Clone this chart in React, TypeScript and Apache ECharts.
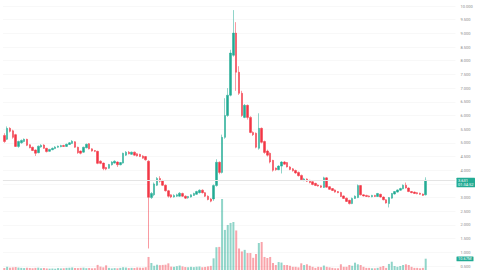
import React, { useEffect, useRef } from "react";
import * as echarts from "echarts";

const opens = [
  5.27, 5.13, 5.53, 5.44, 5.3, 4.87, 5.0, 5.05, 5.13, 4.93,
  4.84, 4.74, 4.64, 4.85, 4.92, 4.8, 4.69, 4.75, 4.79, 4.84,
  4.86, 4.9, 4.87, 4.94, 4.98, 5.04, 4.84, 4.7, 4.66, 4.82,
  4.97, 4.78, 4.72, 4.69, 4.33, 4.26, 4.1, 4.07, 4.2, 4.26,
  4.3, 4.2, 4.26, 4.55, 4.66, 4.58, 4.66, 4.6, 4.58, 4.52,
  4.5, 4.33, 3.0, 3.1, 3.45, 3.7, 3.62, 3.45, 3.25, 3.1,
  3.02, 3.05, 3.05, 3.15, 3.05, 2.99, 3.02, 3.08, 3.12, 3.18,
  3.27, 3.18, 3.05, 2.95, 2.95, 3.44, 4.29, 3.92, 5.2, 6.0,
  6.74, 8.2, 9.01, 7.58, 6.81, 5.93, 6.37, 5.93, 5.38, 5.35,
  4.8, 5.53, 5.05, 4.7, 4.62, 4.36, 4.08, 4.02, 4.15, 4.3,
  4.28, 4.12, 4.05, 3.99, 3.92, 3.81, 3.62, 3.68, 3.63, 3.58,
  3.52, 3.46, 3.43, 3.37, 3.72, 3.4, 3.33, 3.28, 3.22, 3.19,
  3.06, 2.98, 2.9, 2.78, 2.97, 3.0, 3.44, 3.1, 3.08, 3.06,
  3.03, 3.08, 3.04, 3.12, 3.02, 2.92, 2.78, 2.98, 3.13, 3.2,
  3.27, 3.32, 3.45, 3.35, 3.22, 3.2, 3.18, 3.16, 3.13, 3.1,
];

const closes = [
  5.05, 5.53, 5.42, 5.2, 4.87, 5.05, 5.09, 5.13, 4.91, 4.82,
  4.72, 4.62, 4.88, 4.91, 4.8, 4.68, 4.76, 4.8, 4.85, 4.88,
  4.9, 4.87, 4.95, 5.0, 5.06, 4.84, 4.64, 4.62, 4.84, 4.95,
  4.78, 4.7, 4.69, 4.25, 4.25, 4.06, 4.04, 4.21, 4.3, 4.33,
  4.2, 4.28, 4.62, 4.66, 4.6, 4.66, 4.55, 4.52, 4.5, 4.44,
  4.38, 3.01, 3.15, 3.5, 3.7, 3.6, 3.45, 3.25, 3.05, 3.02,
  3.08, 3.1, 3.16, 3.05, 2.98, 3.04, 3.1, 3.15, 3.22, 3.27,
  3.18, 3.05, 2.93, 2.87, 3.44, 4.29, 3.92, 5.2, 6.0, 6.74,
  8.28, 9.01, 7.58, 6.81, 6.0, 6.37, 5.93, 5.38, 5.3, 4.84,
  5.53, 5.02, 4.65, 4.55, 4.3, 4.0, 4.02, 4.15, 4.3, 4.22,
  4.12, 4.03, 3.98, 3.9, 3.8, 3.65, 3.68, 3.6, 3.55, 3.48,
  3.44, 3.42, 3.38, 3.72, 3.38, 3.3, 3.26, 3.2, 3.18, 3.04,
  2.97, 2.86, 2.78, 2.97, 3.05, 3.44, 3.1, 3.06, 3.04, 3.03,
  3.08, 3.04, 3.15, 3.02, 2.92, 2.8, 3.0, 3.15, 3.22, 3.28,
  3.33, 3.45, 3.35, 3.22, 3.18, 3.15, 3.14, 3.12, 3.08, 3.631,
];

const lows = [
  5.0, 5.1, 5.38, 5.15, 4.85, 4.82, 4.97, 5.02, 4.88, 4.8,
  4.7, 4.52, 4.62, 4.82, 4.78, 4.65, 4.67, 4.73, 4.77, 4.82,
  4.84, 4.85, 4.85, 4.92, 4.96, 4.82, 4.6, 4.58, 4.64, 4.8,
  4.76, 4.68, 4.66, 4.22, 4.22, 4.0, 4.0, 4.05, 4.17, 4.24,
  4.12, 4.18, 4.24, 4.52, 4.58, 4.56, 4.53, 4.5, 4.48, 4.42,
  4.35, 1.14, 2.95, 3.05, 3.42, 3.55, 3.42, 3.22, 3.0, 2.98,
  3.0, 3.02, 3.03, 3.02, 2.95, 2.96, 3.0, 3.06, 3.1, 3.15,
  3.15, 3.02, 2.9, 2.83, 2.88, 3.4, 3.85, 3.88, 5.15, 5.95,
  6.7, 8.15, 6.9, 6.75, 5.95, 5.9, 5.85, 5.35, 5.25, 4.8,
  4.75, 4.98, 4.6, 4.5, 4.25, 3.95, 3.98, 4.0, 3.88, 4.2,
  4.1, 4.0, 3.95, 3.87, 3.77, 3.62, 3.6, 3.57, 3.52, 3.45,
  3.42, 3.4, 3.35, 3.35, 3.36, 3.28, 3.24, 3.18, 3.16, 3.02,
  2.95, 2.84, 2.75, 2.76, 2.95, 2.98, 3.08, 3.04, 3.02, 3.01,
  3.01, 3.02, 3.02, 3.0, 2.9, 2.78, 2.64, 2.96, 3.11, 3.18,
  3.25, 3.3, 3.33, 3.2, 3.16, 3.13, 3.12, 3.1, 3.06, 3.08,
];

const highs = [
  5.35, 5.6, 5.57, 5.48, 5.33, 5.08, 5.12, 5.16, 5.15, 4.95,
  4.86, 4.76, 4.9, 4.95, 4.95, 4.82, 4.78, 4.83, 4.88, 4.9,
  4.93, 4.93, 4.97, 5.03, 5.1, 5.06, 4.86, 4.72, 4.86, 4.97,
  4.99, 4.8, 4.74, 4.71, 4.36, 4.28, 4.12, 4.23, 4.33, 4.36,
  4.32, 4.3, 4.64, 4.7, 4.7, 4.68, 4.68, 4.62, 4.6, 4.55,
  4.52, 4.36, 3.2, 3.55, 3.75, 3.78, 3.65, 3.48, 3.28, 3.12,
  3.12, 3.14, 3.2, 3.18, 3.08, 3.06, 3.12, 3.18, 3.25, 3.3,
  3.3, 3.2, 3.08, 2.98, 3.48, 4.4, 4.32, 5.3, 6.63, 7.0,
  8.4, 9.85, 9.41, 7.8, 6.9, 6.42, 6.4, 5.97, 5.42, 5.38,
  6.08, 5.56, 5.08, 4.75, 4.65, 4.38, 4.1, 4.18, 4.33, 4.33,
  4.3, 4.15, 4.08, 4.02, 3.95, 3.84, 3.72, 3.7, 3.65, 3.6,
  3.54, 3.48, 3.45, 3.76, 3.74, 3.42, 3.35, 3.3, 3.24, 3.21,
  3.08, 3.0, 2.92, 3.0, 3.08, 3.48, 3.46, 3.12, 3.1, 3.08,
  3.1, 3.1, 3.17, 3.14, 3.04, 2.94, 3.02, 3.17, 3.24, 3.3,
  3.36, 3.48, 3.55, 3.37, 3.24, 3.22, 3.2, 3.18, 3.15, 3.74,
];

// volume in millions
const volumes = [
  2.0, 3.0, 2.2, 2.5, 2.8, 2.3, 2.0, 1.8, 2.1, 1.9,
  1.7, 2.0, 2.2, 1.6, 1.9, 1.5, 1.3, 1.4, 1.2, 1.8,
  1.5, 1.7, 2.0, 2.1, 2.4, 1.9, 1.8, 2.0, 2.2, 1.7,
  1.9, 1.6, 1.7, 4.8, 3.2, 2.5, 4.4, 2.0, 1.5, 1.8,
  1.6, 2.0, 2.6, 2.3, 1.8, 2.0, 1.9, 2.4, 2.2, 2.1,
  2.6, 12.3, 6.6, 4.0, 5.0, 4.6, 4.8, 5.0, 6.3, 3.2,
  3.0, 3.6, 4.2, 3.4, 2.8, 2.6, 3.0, 2.7, 3.1, 3.3,
  2.6, 2.9, 3.4, 3.9, 11.0, 21.5, 21.8, 67.0, 37.8, 42.5,
  44.4, 45.3, 37.3, 20.3, 17.5, 19.0, 16.0, 16.0, 11.5, 15.0,
  25.5, 26.4, 12.3, 11.3, 12.3, 6.6, 4.7, 7.5, 7.0, 4.7,
  4.7, 4.0, 3.0, 3.0, 2.5, 6.3, 4.7, 5.4, 4.0, 3.0,
  2.0, 3.0, 2.7, 4.2, 3.0, 2.5, 2.0, 1.6, 1.6, 5.4,
  3.0, 3.0, 4.7, 4.0, 6.9, 5.4, 4.7, 3.0, 2.0, 2.0,
  1.6, 1.6, 2.0, 3.0, 3.8, 2.0, 5.7, 7.8, 3.8, 3.0,
  3.8, 4.7, 5.4, 4.7, 3.0, 2.0, 2.0, 1.6, 2.0, 10.67,
];

const EMPTY_SLOTS = 10; // right-side space before the price scale
const countdownText = "01:34:52";
const volumeLabelText = "10.67M";

const categories: string[] = [];
{
  const start = new Date(2024, 0, 1);
  for (let i = 0; i < opens.length + EMPTY_SLOTS; i++) {
    const d = new Date(start.getTime() + i * 86400000);
    categories.push(`${d.getFullYear()}-${d.getMonth() + 1}-${d.getDate()}`);
  }
}

const UP = "#22ab94";
const DOWN = "#f23645";
const UP_VOL = "rgba(34,171,148,0.5)";
const DOWN_VOL = "rgba(242,54,69,0.45)";
const FONT = "Roboto";

export default function App() {
  const ref = useRef<HTMLDivElement>(null);

  useEffect(() => {
    if (!ref.current) return;
    const chart = echarts.init(ref.current, undefined, { renderer: "svg" });
    const candleData = opens.map((o, i) => [o, closes[i], lows[i], highs[i]]);
    const volData = volumes.map((v, i) => ({
      value: v,
      itemStyle: { color: closes[i] >= opens[i] ? UP_VOL : DOWN_VOL },
    }));
    const lastPrice = closes[closes.length - 1];
    const lastVol = volumes[volumes.length - 1];

    chart.setOption({
      animation: false,
      backgroundColor: "#ffffff",
      grid: [
        { left: 2.9, right: 24.6, top: 6, bottom: 4 },
        { left: 2.9, right: 24.6, top: 199, height: 71 },
      ],
      xAxis: [
        {
          type: "category",
          gridIndex: 0,
          data: categories,
          boundaryGap: true,
          axisLine: { show: false },
          axisTick: { show: false },
          axisLabel: { show: false },
          splitLine: { show: false },
        },
        {
          type: "category",
          gridIndex: 1,
          data: categories,
          boundaryGap: true,
          axisLine: { show: false },
          axisTick: { show: false },
          axisLabel: { show: false },
          splitLine: { show: false },
        },
      ],
      yAxis: [
        {
          type: "value",
          gridIndex: 0,
          position: "right",
          min: 0.5,
          max: 10,
          interval: 0.5,
          axisLine: { show: false },
          axisTick: { show: false },
          splitLine: { show: true, lineStyle: { color: "#f8f8f8", width: 1 } },
          axisLabel: {
            show: true,
            margin: 5,
            align: "left",
            color: "#8a8a8a",
            fontSize: 4,
            fontFamily: FONT,
            formatter: (v: number) => (Math.abs(v - 3.5) < 1e-9 ? "" : v.toFixed(3)),
          },
        },
        {
          type: "value",
          gridIndex: 1,
          min: 0,
          max: "dataMax",
          show: false,
          splitLine: { show: false },
        },
      ],
      series: [
        {
          type: "bar",
          xAxisIndex: 1,
          yAxisIndex: 1,
          data: volData,
          barWidth: 2,
          silent: true,
        },
        {
          type: "candlestick",
          xAxisIndex: 0,
          yAxisIndex: 0,
          data: candleData,
          barWidth: 2,
          silent: true,
          itemStyle: {
            color: UP,
            color0: DOWN,
            borderColor: UP,
            borderColor0: DOWN,
            borderWidth: 0.5,
          },
          markLine: {
            silent: true,
            symbol: "none",
            label: { show: false },
            lineStyle: { color: "#e4e4e4", width: 1, type: "solid" },
            data: [{ yAxis: lastPrice }],
          },
        },
      ],
    });

    const py = chart.convertToPixel({ yAxisIndex: 0 } as any, lastPrice) as number;
    const vy = chart.convertToPixel({ yAxisIndex: 1 } as any, lastVol) as number;

    chart.setOption({
      graphic: [
        {
          type: "rect",
          shape: { x: 456.5, y: py - 2.5, width: 18.5, height: 9.5, r: 0.5 },
          style: { fill: UP },
          z: 10,
        },
        {
          type: "text",
          x: 458,
          y: py,
          style: {
            text: lastPrice.toFixed(3),
            fill: "#ffffff",
            fontSize: 4,
            fontFamily: FONT,
            verticalAlign: "middle",
          },
          z: 11,
        },
        {
          type: "text",
          x: 458,
          y: py + 4.2,
          style: {
            text: countdownText,
            fill: "#ffffff",
            fontSize: 4,
            fontFamily: FONT,
            verticalAlign: "middle",
          },
          z: 11,
        },
        {
          type: "rect",
          shape: { x: 456.5, y: vy - 2.3, width: 17, height: 4.8, r: 0.5 },
          style: { fill: UP },
          z: 10,
        },
        {
          type: "text",
          x: 458,
          y: vy + 0.1,
          style: {
            text: volumeLabelText,
            fill: "#ffffff",
            fontSize: 4,
            fontFamily: FONT,
            verticalAlign: "middle",
          },
          z: 11,
        },
      ],
    });

    return () => chart.dispose();
  }, []);

  return (
    <div
      ref={ref}
      style={{ position: "fixed", left: 0, top: 0, width: 480, height: 270, background: "#fff" }}
    />
  );
}
